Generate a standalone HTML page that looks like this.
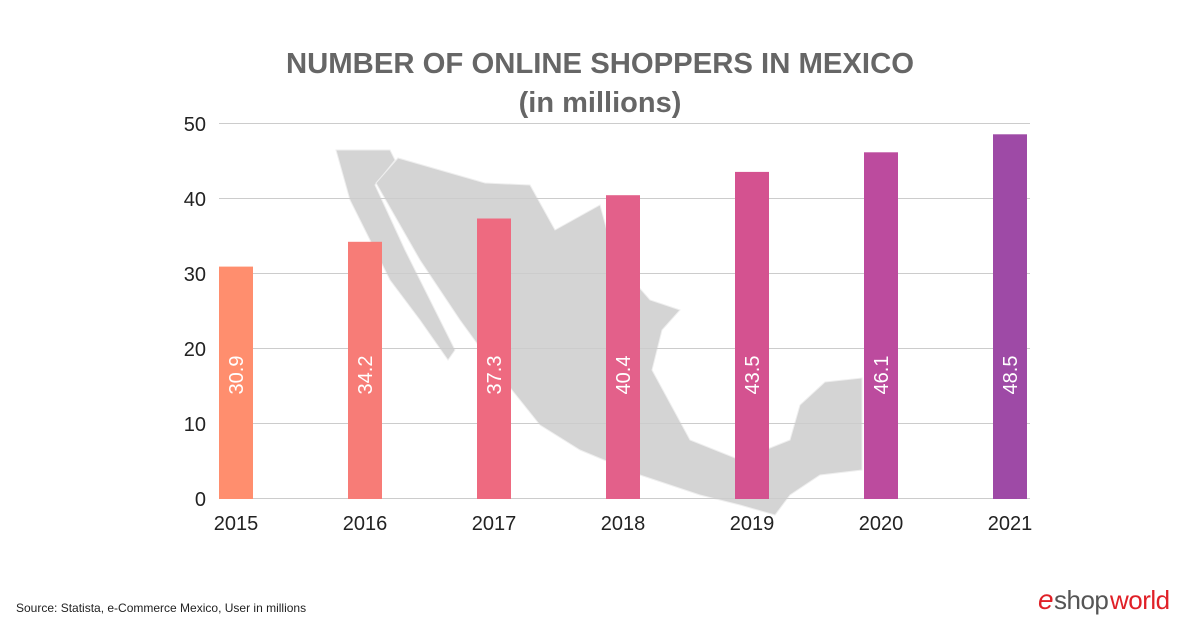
<!DOCTYPE html>
<html><head><meta charset="utf-8"><style>
body{margin:0;width:1200px;height:627px;background:#fff;overflow:hidden;font-family:"Liberation Sans",sans-serif}
</style></head><body>
<svg width="1200" height="627" xmlns="http://www.w3.org/2000/svg" style="position:absolute;left:0;top:0">
<text x="600" y="73" text-anchor="middle" font-family="Liberation Sans" font-weight="bold" font-size="29" fill="#666" textLength="628" lengthAdjust="spacingAndGlyphs">NUMBER OF ONLINE SHOPPERS IN MEXICO</text>
<text x="600" y="112" text-anchor="middle" font-family="Liberation Sans" font-weight="bold" font-size="29" fill="#666">(in millions)</text>
<g fill="#d4d4d4" stroke="#eee" stroke-width="1">
<path d="M336,150 L390,150 L395,160 L375,185 L405,250 L430,300 L455,350 L448,360 L420,320 L390,280 L350,200 Z"/>
<path d="M376,183 L398,158 L485,183 L530,185 L555,230 L600,205 L615,260 L650,300 L680,310 L662,330 L652,370 L690,440 L740,460 L790,440 L800,405 L825,382 L862,378 L862,470 L820,475 L790,495 L775,515 L740,505 L700,495 L640,475 L580,450 L540,425 L500,375 L460,320 L420,260 Z"/>
</g>
<g stroke="#ccc" stroke-width="1">
<line x1="219" y1="123.5" x2="1030" y2="123.5"/>
<line x1="219" y1="198.5" x2="1030" y2="198.5"/>
<line x1="219" y1="273.5" x2="1030" y2="273.5"/>
<line x1="219" y1="348.5" x2="1030" y2="348.5"/>
<line x1="219" y1="423.5" x2="1030" y2="423.5"/>
<line x1="219" y1="498.5" x2="1030" y2="498.5"/>
</g>
<g font-family="Liberation Sans" font-size="20" fill="#222" text-anchor="end">
<text x="206" y="131">50</text><text x="206" y="206">40</text><text x="206" y="281">30</text>
<text x="206" y="356">20</text><text x="206" y="431">10</text><text x="206" y="506">0</text>
</g>
<g>
<rect x="219" y="266.6" width="34" height="232.4" fill="#FF8E6E"/>
<rect x="348" y="241.8" width="34" height="257.2" fill="#F77C77"/>
<rect x="477" y="218.5" width="34" height="280.5" fill="#EE6A80"/>
<rect x="606" y="195.2" width="34" height="303.8" fill="#E3608A"/>
<rect x="735" y="171.9" width="34" height="327.1" fill="#D45290"/>
<rect x="864" y="152.3" width="34" height="346.7" fill="#BC4B9E"/>
<rect x="993" y="134.3" width="34" height="364.7" fill="#9E4AA6"/>
</g>
<g font-family="Liberation Sans" font-size="20" fill="#fff" text-anchor="middle">
<text transform="translate(243,375) rotate(-90)">30.9</text>
<text transform="translate(372,375) rotate(-90)">34.2</text>
<text transform="translate(501,375) rotate(-90)">37.3</text>
<text transform="translate(630,375) rotate(-90)">40.4</text>
<text transform="translate(759,375) rotate(-90)">43.5</text>
<text transform="translate(888,375) rotate(-90)">46.1</text>
<text transform="translate(1017,375) rotate(-90)">48.5</text>
</g>
<g font-family="Liberation Sans" font-size="20" fill="#222" text-anchor="middle">
<text x="236" y="530">2015</text><text x="365" y="530">2016</text><text x="494" y="530">2017</text>
<text x="623" y="530">2018</text><text x="752" y="530">2019</text><text x="881" y="530">2020</text><text x="1010" y="530">2021</text>
</g>
<text x="16" y="612" font-family="Liberation Sans" font-size="12" fill="#222">Source: Statista, e-Commerce Mexico, User in millions</text>
<text x="1038" y="609" font-family="Liberation Sans" font-size="28" fill="#e02027" font-style="italic">e</text>
<text x="1054" y="609" font-family="Liberation Sans" font-size="26" fill="#555" letter-spacing="-0.5">shop</text>
<text x="1110" y="609" font-family="Liberation Sans" font-size="26" fill="#e02027" letter-spacing="-0.5">world</text>
</svg>
</body></html>
